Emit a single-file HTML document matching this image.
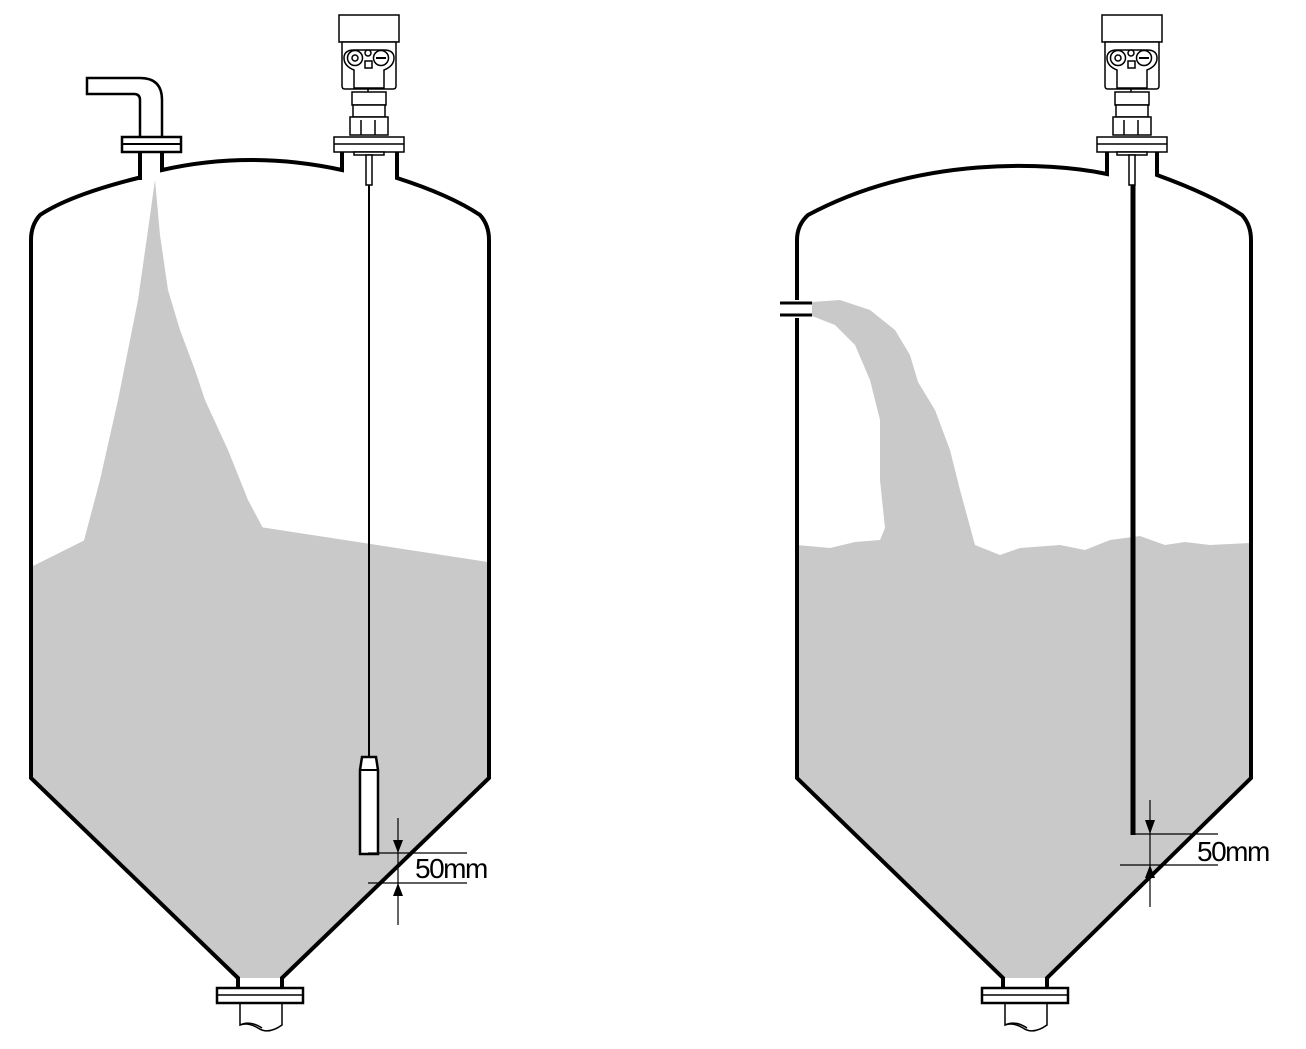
<!DOCTYPE html>
<html><head><meta charset="utf-8"><style>html,body{margin:0;padding:0;background:#fff}svg{display:block}</style></head>
<body>
<svg width="1306" height="1049" viewBox="0 0 1306 1049" xmlns="http://www.w3.org/2000/svg" font-family="Liberation Sans, sans-serif">
<defs>
<g id="dev" fill="#fff" stroke="#000" stroke-width="1.5">
  <rect x="-30" y="15" width="60" height="27"/>
  <path d="M-27 42 H27 V86 Q27 89 24 89 H-24 Q-27 89 -27 86 Z"/>
  <path d="M-15 50 H15 Q25 50 25 58 Q25 66 15 70 L15 88 H-15 L-15 70 Q-25 66 -25 58 Q-25 50 -15 50Z"/>
  <circle cx="-14" cy="58" r="7.5"/><circle cx="-14" cy="58" r="3"/>
  <circle cx="12" cy="58" r="7.5"/><line x1="7" y1="58" x2="17" y2="58" stroke-width="2"/>
  <circle cx="-1" cy="53" r="3"/><rect x="-4" y="61" width="7" height="7"/>
  <line x1="-1" y1="89" x2="-1" y2="99"/>
  <rect x="-17" y="92" width="34" height="13"/>
  <rect x="-16" y="105" width="32" height="12"/>
  <rect x="-19" y="117" width="38" height="18"/>
  <line x1="-8" y1="120" x2="-8" y2="135"/><line x1="6" y1="120" x2="6" y2="135"/>
  <rect x="-35" y="137" width="70" height="15"/>
  <line x1="-35" y1="144" x2="35" y2="144"/>
  <rect x="-15" y="152" width="30" height="3"/>
  <rect x="-3" y="155" width="6" height="30"/>
</g>
</defs>

<!-- LEFT TANK -->
<path d="M33 566 L85 540 L260 527 L488 562 L488 778 L282 978 L238 978 L33 778 Z" fill="#c9c9c9"/>
<path d="M155 180 L160 235 L168 290 L180 330 L195 370 L205 400 L228 450 L248 500 L264 530 L200 545 L82 548 L100 480 L118 400 L138 300 L148 230 Z" fill="#c9c9c9"/>
<path d="M140 175 V178 L138 178 Q70 195 40 215 Q31 225 31 240 V778 L238 978 V988 M282 988 V978 L489 778 V240 Q489 225 480 215 Q450 195 397 178 V152 M342 152 V170 Q250 150 162 170 V152" fill="none" stroke="#000" stroke-width="4"/>
<line x1="140" y1="152" x2="140" y2="178" stroke="#000" stroke-width="4"/>
<path d="M140 137 V100 Q140 94 134 94 H87 V78 H140 Q162 78 162 100 V137" fill="#fff" stroke="#000" stroke-width="2.5"/>
<rect x="122" y="137" width="59" height="15" fill="#fff" stroke="#000" stroke-width="2.5"/>
<line x1="122" y1="144" x2="181" y2="144" stroke="#000" stroke-width="2"/>
<use href="#dev" x="369" y="0"/>
<line x1="369" y1="185" x2="369" y2="757" stroke="#000" stroke-width="2"/>
<path d="M362 757 H376 L378 770 V854 H360 V770 Z" fill="#fff" stroke="#000" stroke-width="2.5"/>
<line x1="360" y1="770" x2="378" y2="770" stroke="#000" stroke-width="2"/>
<rect x="217" y="988" width="86" height="15" fill="#fff" stroke="#000" stroke-width="2.5"/>
<line x1="217" y1="995" x2="303" y2="995" stroke="#000" stroke-width="1.5"/>
<path d="M240 1003 V1025 Q248 1022 258 1028 Q268 1035 282 1025 V1003" fill="none" stroke="#000" stroke-width="1.5"/>
<path d="M240 1025 Q250 1020 262 1028" fill="none" stroke="#000" stroke-width="1.5"/>
<g stroke="#000" stroke-width="1.2">
<line x1="368" y1="853" x2="467" y2="853"/><line x1="368" y1="883" x2="467" y2="883"/>
<line x1="398" y1="818" x2="398" y2="925"/></g>
<path d="M393 840 L403 840 L398 853 Z M393 896 L403 896 L398 883 Z" fill="#000"/>
<text x="415" y="878" font-size="28" letter-spacing="-1.5">50mm</text>

<!-- RIGHT TANK -->
<path d="M797 545 L830 548 L855 542 L880 540 L885 528 L880 480 L880 420 L870 380 L855 345 L835 325 L812 316 L812 302 L840 300 L870 310 L895 330 L910 355 L918 382 L935 410 L950 450 L960 490 L975 545 L1000 555 L1020 548 L1060 545 L1085 550 L1110 540 L1140 536 L1165 545 L1185 542 L1210 545 L1250 543 L1250 778 L1047 978 L1003 978 L797 778 Z" fill="#c9c9c9"/>
<path d="M1107 152 V174 C1050 162 920 155 808 215 Q797 225 797 240 V300 M797 318 V778 L1003 978 V988 M1047 988 V978 L1251 778 V240 Q1251 225 1242 215 Q1212 195 1157 175 V152" fill="none" stroke="#000" stroke-width="4"/>
<line x1="780" y1="303" x2="812" y2="303" stroke="#000" stroke-width="3"/>
<line x1="780" y1="315" x2="812" y2="315" stroke="#000" stroke-width="3"/>
<use href="#dev" x="1132" y="0"/>
<line x1="1133" y1="185" x2="1133" y2="835" stroke="#000" stroke-width="5"/>
<rect x="982" y="988" width="86" height="15" fill="#fff" stroke="#000" stroke-width="2.5"/>
<line x1="982" y1="995" x2="1068" y2="995" stroke="#000" stroke-width="1.5"/>
<path d="M1005 1003 V1025 Q1013 1022 1023 1028 Q1033 1035 1047 1025 V1003" fill="none" stroke="#000" stroke-width="1.5"/>
<path d="M1005 1025 Q1015 1020 1027 1028" fill="none" stroke="#000" stroke-width="1.5"/>
<g stroke="#000" stroke-width="1.2">
<line x1="1131" y1="834" x2="1218" y2="834"/><line x1="1120" y1="865" x2="1218" y2="865"/>
<line x1="1150" y1="800" x2="1150" y2="907"/></g>
<path d="M1145 820 L1155 820 L1150 834 Z M1145 878 L1155 878 L1150 865 Z" fill="#000"/>
<text x="1197" y="861" font-size="28" letter-spacing="-1.5">50mm</text>
</svg>
</body></html>
